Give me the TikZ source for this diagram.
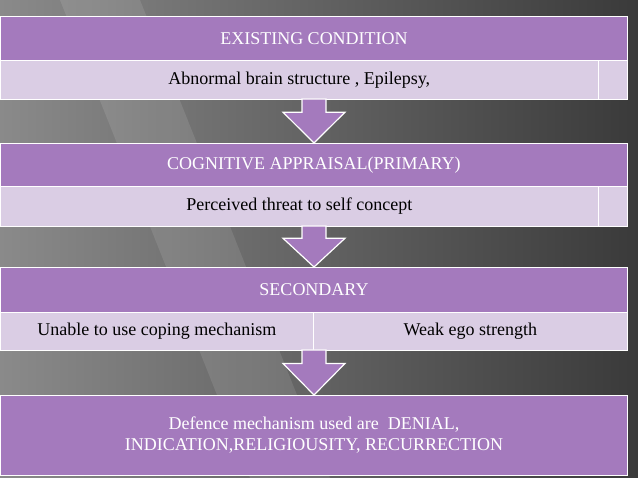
\documentclass[tikz,border=0pt]{standalone}
\usepackage{fontspec}
\setmainfont{Liberation Serif}
\begin{document}
\begin{tikzpicture}[x=1pt,y=-1pt,
  hdr/.style={draw=white,line width=1pt,fill=hcol,text=white,font=\fontsize{18}{21}\selectfont,inner sep=0pt},
  rowc/.style={draw=white,line width=0.6pt,fill=rcol,text=black,font=\fontsize{18}{21}\selectfont,inner sep=0pt},
  arr/.style={draw=white,line width=1.2pt,fill=hcol}]
\definecolor{hcol}{HTML}{A47ABD}
\definecolor{rcol}{HTML}{DACDE4}
\definecolor{bgl}{HTML}{8A8A8A}
\definecolor{bgr}{HTML}{3A3A3A}
\useasboundingbox (0,0) rectangle (638,478);
\shade[left color=bgl,right color=bgr] (0,0) rectangle (638,478);
\fill[white,opacity=0.10] (60,0) -- (140,0) -- (330,478) -- (250,478) -- cycle;
% band 1
\node[hdr,minimum width=627pt,minimum height=44pt,anchor=north west] (h1) at (0,16) {EXISTING CONDITION};
\node[rowc,minimum width=598pt,minimum height=39pt,anchor=north west] (r1) at (0,60) {Abnormal brain structure , Epilepsy,};
\node[rowc,minimum width=29pt,minimum height=39pt,anchor=north west] (r1b) at (598,60) {};
% band 2
\node[hdr,minimum width=627pt,minimum height=43pt,anchor=north west] (h2) at (0,143) {COGNITIVE APPRAISAL(PRIMARY)};
\node[rowc,minimum width=598pt,minimum height=40pt,anchor=north west] (r2) at (0,186) {Perceived threat to self concept};
\node[rowc,minimum width=29pt,minimum height=40pt,anchor=north west] (r2b) at (598,186) {};
% band 3
\node[hdr,minimum width=627pt,minimum height=45pt,anchor=north west] (h3) at (0,267) {SECONDARY};
\node[rowc,minimum width=313pt,minimum height=38pt,anchor=north west] (r3a) at (0,312) {Unable to use coping mechanism};
\node[rowc,minimum width=314pt,minimum height=38pt,anchor=north west] (r3b) at (313,312) {Weak ego strength};
% band 4
\node[hdr,minimum width=627pt,minimum height=80pt,anchor=north west,align=center] (h4) at (0,395) {Defence mechanism used are \ DENIAL,\\INDICATION,RELIGIOUSITY, RECURRECTION};
% arrows
\foreach \t/\b in {99/143,226/267,350/395}{
  \pgfmathsetmacro{\m}{\t+0.3*(\b-\t)}
  \draw[arr] (302,\t) -- (326,\t) -- (326,\m) -- (345,\m) -- (314,\b) -- (283,\m) -- (302,\m) -- cycle;
}
\end{tikzpicture}
\end{document}
